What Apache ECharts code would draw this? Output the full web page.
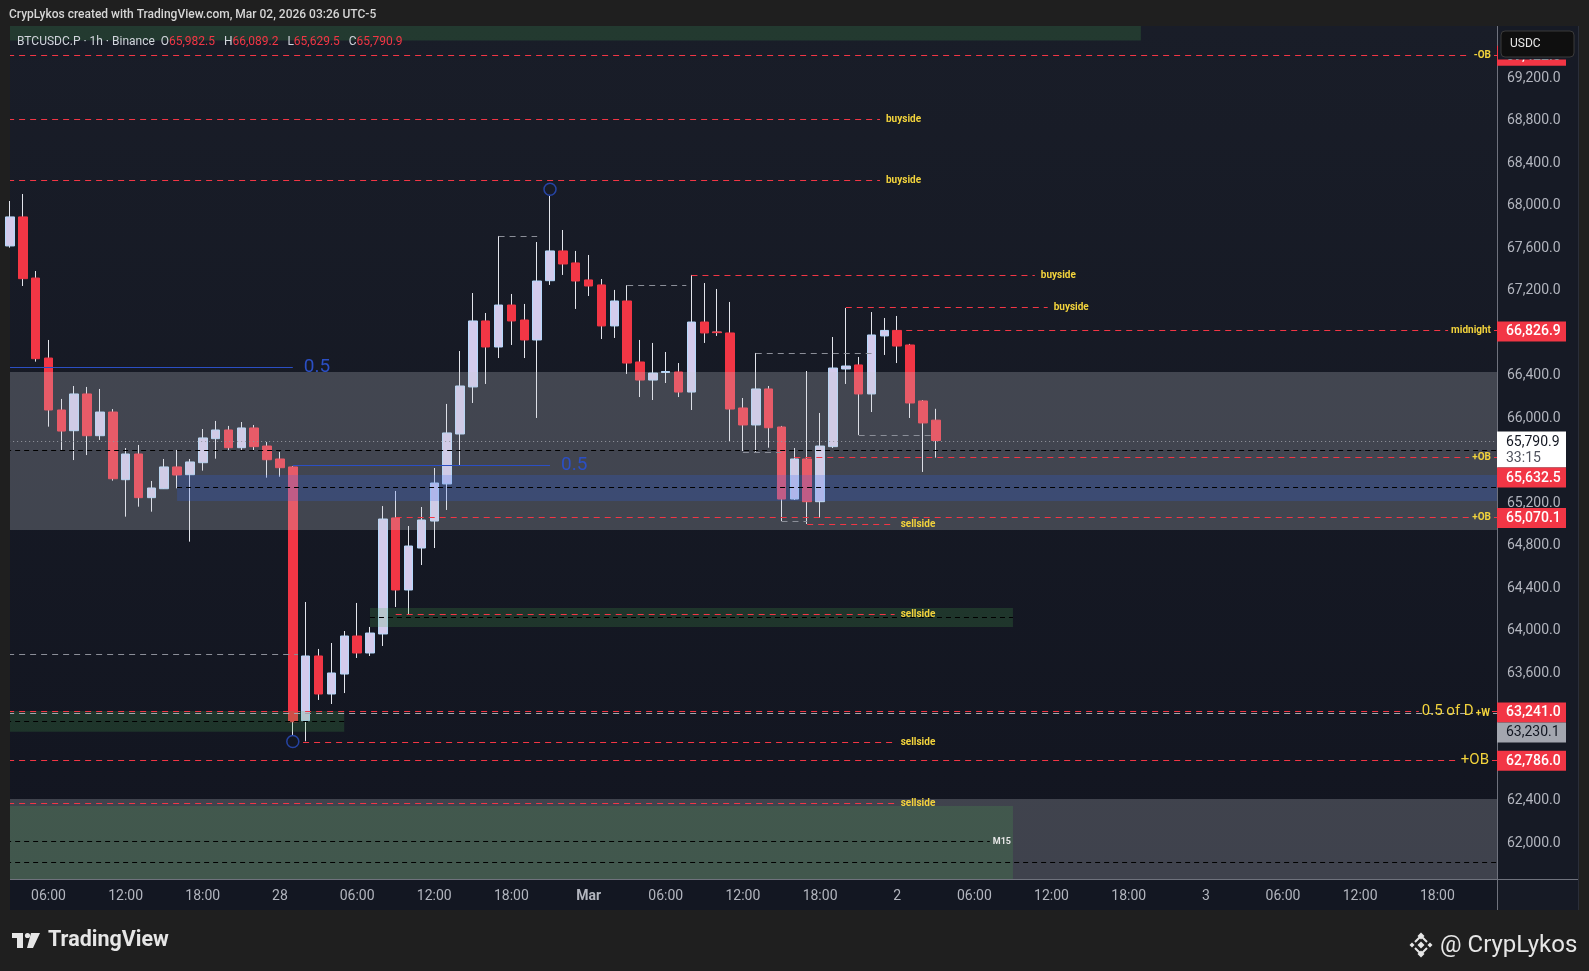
<!DOCTYPE html>
<html>
<head>
<meta charset="utf-8">
<script src="https://cdn.jsdelivr.net/npm/echarts@6.0.0/dist/echarts.min.js"></script>
<style>
html,body{margin:0;padding:0;background:#1f1f1f;overflow:hidden;}
#chart{width:1589px;height:971px;}
</style>
</head>
<body>
<div id="chart"></div>
<script>
// ---------------- DATA ----------------
// hourly candles, hour counted from Feb 27 00:00 (UTC-5)
const candleHours = [3,4,5,6,7,8,9,10,11,12,13,14,15,16,17,18,19,20,21,22,23,24,25,26,27,28,29,30,31,32,33,34,35,36,37,38,39,40,41,42,43,44,45,46,47,48,49,50,51,52,53,54,55,56,57,58,59,60,61,62,63,64,65,66,67,68,69,70,71,72,73,74,75];
const opens  = [67622,67895,67320,66567,66078,65883,66229,65836,66059,65422,65664,65253,65337,65542,65469,65582,65808,65890,65723,65909,65739,65617,65542,63154,63763,63405,63593,63951,63791,63970,65062,64384,64779,65033,65382,65852,66295,66916,66671,67066,66925,66737,67295,67575,67462,67302,67255,66869,67104,66530,66360,66431,66436,66247,66906,66812,66803,66097,65937,66276,65918,65240,65617,65215,65733,66464,66502,66229,66775,66826.9,66690,66163,65982.5];
const highs  = [68045,68111,67386,66737,66182,66304,66295,66276,66087,65720,65749,65410,65617,65702,65617,65899,65975,65928,65965,65937,65777,65683,65551,64271,63829,63885,63998,64262,64036,65174,65316,64986,65165,65532,66135,66633,67179,66991,67716,67170,67076,67659,68092,67772,67575,67537,67311,67208,67252,66737,66709,66624,66520,67349,67273,67217,67095,66191,66615,66304,65928,65720,66445,66050,66765,67038,66577,67000,66944,66963,66700,66172,66089.2];
const lows   = [67606,67245,66533,65921,65702,65607,65654,65796,65413,65074,65168,65121,65337,65341,64839,65507,65620,65702,65702,65695,65441,65450,63019,62960,63349,63311,63414,63744,63763,63857,64224,64158,64619,64779,65137,65560,66144,66323,66567,66690,66567,66003,67255,67349,67029,67151,66746,66756,66417,66200,66172,66332,66200,66078,66709,66775,65786,65692,65683,65723,65033,65231,65005,65062,65720,66323,65843,66059,66596,66520,66003,65495,65629.5];
const closes = [67895,67314,66561,66078,65880,66229,65836,66059,65431,65664,65253,65344,65542,65466,65589,65815,65890,65723,65909,65733,65610,65535,63144,63763,63405,63603,63951,63791,63979,65052,64384,64798,65043,65391,65862,66304,66916,66671,67066,66916,66737,67292,67575,67452,67292,67245,66869,67104,66520,66360,66426,66440,66247,66906,66803,66806,66087,65937,66276,65911,65240,65617,65215,65739,66473,66492,66229,66784,66826.9,66680,66144,65956,65790.9];

// time-axis ticks (hours) and their labels
const tickHours  = [6,12,18,24,30,36,42,48,54,60,66,72,78,84,90,96,102,108,114];
const tickLabels = ['06:00','12:00','18:00','28','06:00','12:00','18:00','Mar','06:00','12:00','18:00','2','06:00','12:00','18:00','3','06:00','12:00','18:00'];
// price-axis ticks
const priceTicks = [62000,62400,62800,63200,63600,64000,64400,64800,65200,65600,66000,66400,66800,67200,67600,68000,68400,68800,69200,69600];

// zones: [fromHour, toHour, topPrice, bottomPrice, kind]  (null = chart edge)
const zones = [
  [null, 90.95, null, 69556, 'green'],
  [null, null, 66436, 64949, 'gray'],
  [16, null, 65466, 65222, 'blue'],
  [31, 81, 64214, 64036, 'green'],
  [null, 29, 63245, 63050, 'green'],
  [null, null, 62417, null, 'gray'],
  [null, 81, 62351, null, 'green']
];

// horizontal levels: [price, fromHour, toHour, kind, text]
const levels = [
  [69422, null, null, 'ob', '-OB'],
  [68821, null, 70.66, 'liq', 'buyside'],
  [68239, null, 70.66, 'liq', 'buyside'],
  [67352, 56, 82.7, 'liq', 'buyside'],
  [67045, 68, 83.7, 'liq', 'buyside'],
  [66826.9, 72.7, null, 'ob', 'midnight'],
  [66483, null, 25, 'half', '0.5'],
  [65558, 25, 45, 'half', '0.5'],
  [65790.9, null, null, 'last', ''],
  [65699, null, null, 'mid', ''],
  [65350, 16, null, 'mid', ''],
  [65632.5, 64, null, 'ob', '+OB'],
  [65070.1, 33, null, 'ob', '+OB'],
  [67713, 41, 44, 'sweep', ''],
  [67252, 51, 55.6, 'sweep', ''],
  [66612, 61, 70, 'sweep', ''],
  [65680, 60, 63, 'sweep', ''],
  [65840, 69, 75, 'sweep', ''],
  [65033, 63, 65, 'sweep', ''],
  [63777, null, 25.4, 'sweep', ''],
  [65002, 65, 71.8, 'liq', 'sellside'],
  [64158, 33, 71.8, 'liq', 'sellside'],
  [62958, 25.8, 71.8, 'liq', 'sellside'],
  [62376, null, 71.8, 'liq', 'sellside'],
  [64127, 31, 81, 'mid', ''],
  [63148, null, 29, 'mid', ''],
  [63241.0, null, null, 'major', '0.5 of D\u2003'],
  [63230.1, null, null, 'w', '+W'],
  [62786.0, null, null, 'major', '+OB'],
  [62019, null, 79.2, 'tf', 'M15'],
  [61821, null, null, 'mid', '']
];

// swing markers: [hour, price]
const swingMarks = [[45, 68155], [25, 62958]];

// price tags on the right axis
const tagPrices = [69422, 66826.9, 65790.9, 65632.5, 65070.1, 63241.0, 63230.1, 62786.0];
const tagKinds  = ['red', 'red', 'last', 'red', 'red', 'red', 'gray', 'red'];
const countdown = '33:15';

// ---------------- CHART ----------------
const X_MIN = 3.008, X_MAX = 118.64, Y_MIN = 61664, Y_MAX = 69692;
const FONT = 'Roboto, "Noto Sans", sans-serif';
const YEL = '#f2d33c';
const RED = '#f23645';
const BLUE = '#2b4fc4';

const zoneFill = {
  green: 'rgba(76,175,80,0.2)',
  gray: 'rgba(200,202,212,0.25)',
  blue: 'rgba(41,98,255,0.2)'
};
const kindStyle = {
  liq:   {stroke: RED, dash: [6,5], at: 'end', gap: 6, size: 10, weight: 'bold', color: YEL},
  ob:    {stroke: RED, dash: [6,5], at: 'right', gap: 6, size: 10, weight: 'bold', color: YEL},
  major: {stroke: RED, dash: [6,5], at: 'right', gap: 8, size: 15, weight: 'normal', color: YEL},
  half:  {stroke: BLUE, dash: null, at: 'end', gap: 11, size: 19, weight: 'normal', color: BLUE},
  last:  {stroke: '#9598a1', dash: [1,3]},
  mid:   {stroke: '#000000', dash: [5,4]},
  sweep: {stroke: '#8b8e98', dash: [6,5]},
  w:     {stroke: '#a3a6af', dash: [6,5], at: 'right', gap: 7, size: 10, weight: 'bold', color: YEL},
  tf:    {stroke: '#000000', dash: [5,4], at: 'end', gap: 3, size: 9, weight: 'bold', color: '#e6e6e6'}
};

const mctx = document.createElement('canvas').getContext('2d');
function textW(size, weight, s) { mctx.font = weight + ' ' + size + 'px ' + FONT; return mctx.measureText(s).width; }
function txtStyle(text, color, size, weight, align, extra) {
  return Object.assign({
    text: text, fill: color, textFill: color, fontSize: size, fontWeight: weight || 'normal', fontFamily: FONT,
    align: align || 'left', textAlign: align || 'left', verticalAlign: 'middle', textVerticalAlign: 'middle'
  }, extra || {});
}
const fmt = v => v.toLocaleString('en-US', {minimumFractionDigits: 1, maximumFractionDigits: 1});

const wickData = candleHours.map((h, i) => { const m = (opens[i] + closes[i]) / 2; return [h, m, m, lows[i], highs[i]]; });
const bodyData = candleHours.map((h, i) => [h, opens[i], closes[i], Math.min(opens[i], closes[i]), Math.max(opens[i], closes[i])]);
const zoneData = zones.map((z, i) => [z[0] == null ? X_MIN - 1 : z[0], z[1] == null ? X_MAX + 1 : z[1], z[2] == null ? Y_MAX + 200 : z[2], z[3] == null ? Y_MIN - 200 : z[3], i]);
const levelData = levels.map((l, i) => [l[1] == null ? X_MIN - 1 : l[1], l[2] == null ? X_MAX + 1 : l[2], l[0], i]);

const chart = echarts.init(document.getElementById('chart'), null, {width: 1589, height: 971, renderer: 'canvas'});

const option = {
  backgroundColor: '#1f1f1f',
  animation: false,
  grid: {
    left: 10, right: 92, top: 26, bottom: 92, show: true, borderWidth: 0, outerBoundsMode: 'none',
    backgroundColor: new echarts.graphic.LinearGradient(0, 0, 0, 1, [{offset: 0, color: '#191d28'}, {offset: 1, color: '#121520'}])
  },
  xAxis: {
    type: 'value', min: X_MIN, max: X_MAX,
    axisLine: {show: false}, axisTick: {show: false}, splitLine: {show: false},
    axisLabel: {
      customValues: tickHours, color: '#b2b5be', fontSize: 14, fontFamily: FONT, margin: 10,
      formatter: v => { const i = tickHours.indexOf(Math.round(v)); const s = i >= 0 ? tickLabels[i] : ''; return s === 'Mar' ? '{b|Mar}' : s; },
      rich: {b: {fontWeight: 'bold', color: '#b2b5be', fontSize: 14, fontFamily: FONT}}
    }
  },
  yAxis: {
    type: 'value', position: 'right', min: Y_MIN, max: Y_MAX, scale: true,
    axisLine: {show: false}, axisTick: {show: false}, splitLine: {show: false},
    axisLabel: {customValues: priceTicks, color: '#b2b5be', fontSize: 14, fontFamily: FONT, margin: 10, padding: [3, 0, 0, 0], formatter: v => fmt(v)}
  },
  series: [
    {
      type: 'candlestick', name: 'wicks', z: 2, silent: true, barWidth: 9,
      dimensions: ['h', 'open', 'close', 'low', 'high'], encode: {x: 0, y: [1, 2, 3, 4]},
      data: wickData,
      itemStyle: {color: 'rgba(0,0,0,0)', color0: 'rgba(0,0,0,0)', borderColor: '#e3e5ec', borderColor0: '#e3e5ec', borderWidth: 1}
    },
    {
      type: 'candlestick', name: 'bodies', z: 3, silent: true, barWidth: 9,
      dimensions: ['h', 'open', 'close', 'low', 'high'], encode: {x: 0, y: [1, 2, 3, 4]},
      data: bodyData,
      itemStyle: {color: '#d3cbec', color0: RED, borderColor: '#b5d8fb', borderColor0: RED, borderWidth: 1}
    },
    {
      type: 'custom', name: 'zones', z: 4, silent: true, clip: true,
      encode: {x: [0, 1], y: [2, 3]}, data: zoneData,
      renderItem: (params, api) => {
        const z = zones[api.value(4)];
        const p0 = api.coord([api.value(0), api.value(2)]);
        const p1 = api.coord([api.value(1), api.value(3)]);
        return {type: 'rect', shape: {x: p0[0], y: p0[1], width: p1[0] - p0[0], height: p1[1] - p0[1]}, style: {fill: zoneFill[z[4]]}};
      }
    },
    {
      type: 'custom', name: 'levels', z: 5, silent: true, clip: true,
      encode: {x: [0, 1], y: 2}, data: levelData,
      renderItem: (params, api) => {
        const lv = levels[api.value(3)];
        const k = kindStyle[lv[3]];
        const cs = params.coordSys;
        const a = api.coord([api.value(0), api.value(2)]);
        const b = api.coord([api.value(1), api.value(2)]);
        const y = Math.round(a[1]) + 0.5;
        const children = [];
        let segs = [[a[0], b[0]]];
        const text = lv[4];
        if (text) {
          const w = textW(k.size, k.weight, text);
          let tx, align;
          if (k.at === 'right') {
            tx = cs.x + cs.width - k.gap; align = 'right';
            segs = [[a[0], tx - w - 3], [tx + 3, b[0]]];
          } else {
            tx = b[0] + k.gap; align = 'left';
          }
          children.push({type: 'text', x: tx, y: y, z2: 5, style: txtStyle(text, k.color, k.size, k.weight, align)});
        }
        segs.forEach(s => {
          if (s[1] > s[0]) children.push({type: 'line', shape: {x1: s[0], y1: y, x2: s[1], y2: y}, style: {stroke: k.stroke, lineWidth: 1, lineDash: k.dash || null}});
        });
        return {type: 'group', children: children};
      }
    },
    {
      type: 'scatter', name: 'swings', z: 6, silent: true, symbol: 'circle', symbolSize: 12,
      data: swingMarks,
      itemStyle: {color: 'rgba(0,0,0,0)', borderColor: BLUE, borderWidth: 1.5}
    }
  ]
};
chart.setOption(option);

// ---------------- GRAPHICS (frame, texts, tags) ----------------
const g = [];
g.push({type: 'rect', z: -100, silent: true, shape: {x: 10, y: 26, width: 1568, height: 884}, style: {fill: '#161a25'}});
g.push({type: 'rect', z: -99, silent: true, shape: {x: 10, y: 879, width: 1487, height: 31}, style: {fill: '#131722'}});
g.push({type: 'line', z: 50, silent: true, shape: {x1: 1497.5, y1: 26, x2: 1497.5, y2: 910}, style: {stroke: '#6f727d', lineWidth: 1}});
g.push({type: 'line', z: 50, silent: true, shape: {x1: 10, y1: 879.5, x2: 1578, y2: 879.5}, style: {stroke: '#6f727d', lineWidth: 1}});
g.push({type: 'line', z: 50, silent: true, shape: {x1: 1578.5, y1: 26, x2: 1578.5, y2: 910}, style: {stroke: '#2a2e39', lineWidth: 1}});

// tags
const tagOrder = tagPrices.map((p, i) => i).sort((a, b) => tagPrices[b] - tagPrices[a]);
let prevBottom = -1e9;
tagOrder.forEach(i => {
  const p = tagPrices[i], kind = tagKinds[i];
  const y = chart.convertToPixel({yAxisIndex: 0}, p);
  const h = kind === 'last' ? 36 : 20;
  let top = y - 10 + 1;
  if (top < prevBottom) top = prevBottom;
  prevBottom = top + h;
  const fill = kind === 'red' ? RED : (kind === 'gray' ? '#a3a6af' : '#ffffff');
  const tc = kind === 'red' ? '#ffffff' : '#131722';
  g.push({type: 'rect', z: 60, silent: true, shape: {x: 1497, y: top, width: 69, height: h}, style: {fill: fill}});
  g.push({type: 'text', z: 61, silent: true, x: 1506, y: top + 10.5, style: txtStyle(fmt(p), tc, 14, kind === 'red' ? '500' : 'normal', 'left')});
  if (kind === 'last') g.push({type: 'text', z: 61, silent: true, x: 1506, y: top + 27, style: txtStyle(countdown, '#50535e', 14, 'normal', 'left')});
});

// currency box area (covers what is under it on the price scale)
g.push({type: 'rect', z: 65, silent: true, shape: {x: 1498, y: 26, width: 80, height: 33.5}, style: {fill: '#161a25'}});
g.push({type: 'rect', z: 70, silent: true, shape: {x: 1501, y: 31, width: 73, height: 26, r: 4}, style: {fill: '#0f0f0f', stroke: '#3a3a3a', lineWidth: 1}});
g.push({type: 'text', z: 71, silent: true, x: 1510, y: 44, style: txtStyle('USDC', '#e8e8e8', 12, 'normal', 'left')});

// header line
g.push({type: 'text', z: 80, silent: true, x: 9, y: 15, style: txtStyle('CrypLykos created with TradingView.com, Mar 02, 2026 03:26 UTC-5', '#d6d6d6', 12, '500', 'left')});

// legend
const last = opens.length - 1;
const parts = [
  ['BTCUSDC.P \u00b7 1h \u00b7 Binance  ', '#d1d4dc'],
  ['O', '#d1d4dc'], [fmt(opens[last]) + '   ', RED],
  ['H', '#d1d4dc'], [fmt(highs[last]) + '   ', RED],
  ['L', '#d1d4dc'], [fmt(lows[last]) + '   ', RED],
  ['C', '#d1d4dc'], [fmt(closes[last]), RED]
];
let lx = 17;
parts.forEach(pt => {
  g.push({type: 'text', z: 80, silent: true, x: lx, y: 42, style: txtStyle(pt[0], pt[1], 12, 'normal', 'left')});
  lx += textW(12, 'normal', pt[0]);
});

// footer: TradingView logo
g.push({type: 'rect', z: 80, silent: true, shape: {x: 12, y: 933, width: 11, height: 5}, style: {fill: '#e6e6e6'}});
g.push({type: 'rect', z: 80, silent: true, shape: {x: 17, y: 933, width: 6, height: 15}, style: {fill: '#e6e6e6'}});
g.push({type: 'circle', z: 80, silent: true, shape: {cx: 27.5, cy: 935.5, r: 2.6}, style: {fill: '#e6e6e6'}});
g.push({type: 'polygon', z: 80, silent: true, shape: {points: [[31, 933], [40, 933], [33, 948], [27, 948]]}, style: {fill: '#e6e6e6'}});
g.push({type: 'text', z: 80, silent: true, x: 48, y: 941, style: txtStyle('TradingView', '#e6e6e6', 21.5, 'bold', 'left')});

// footer: binance mark + handle
const bx = 1421, by = 945;
[[0, 0, 3.5], [-9, 0, 2.5], [9, 0, 2.5], [0, -9, 3.5], [0, 9, 3.5]].forEach(d => {
  const cx = bx + d[0], cy = by + d[1], s = d[2];
  g.push({type: 'polygon', z: 80, silent: true, shape: {points: [[cx, cy - s], [cx + s, cy], [cx, cy + s], [cx - s, cy]]}, style: {fill: '#e6e6e6'}});
});
g.push({type: 'polyline', z: 80, silent: true, shape: {points: [[bx - 6, by - 3], [bx, by - 9], [bx + 6, by - 3]]}, style: {stroke: '#e6e6e6', lineWidth: 2, fill: null}});
g.push({type: 'polyline', z: 80, silent: true, shape: {points: [[bx - 6, by + 3], [bx, by + 9], [bx + 6, by + 3]]}, style: {stroke: '#e6e6e6', lineWidth: 2, fill: null}});
g.push({type: 'text', z: 80, silent: true, x: 1440, y: 946, style: txtStyle('@ CrypLykos', '#e6e6e6', 24, 'normal', 'left')});

chart.setOption({graphic: {elements: g}});
</script>
</body>
</html>
